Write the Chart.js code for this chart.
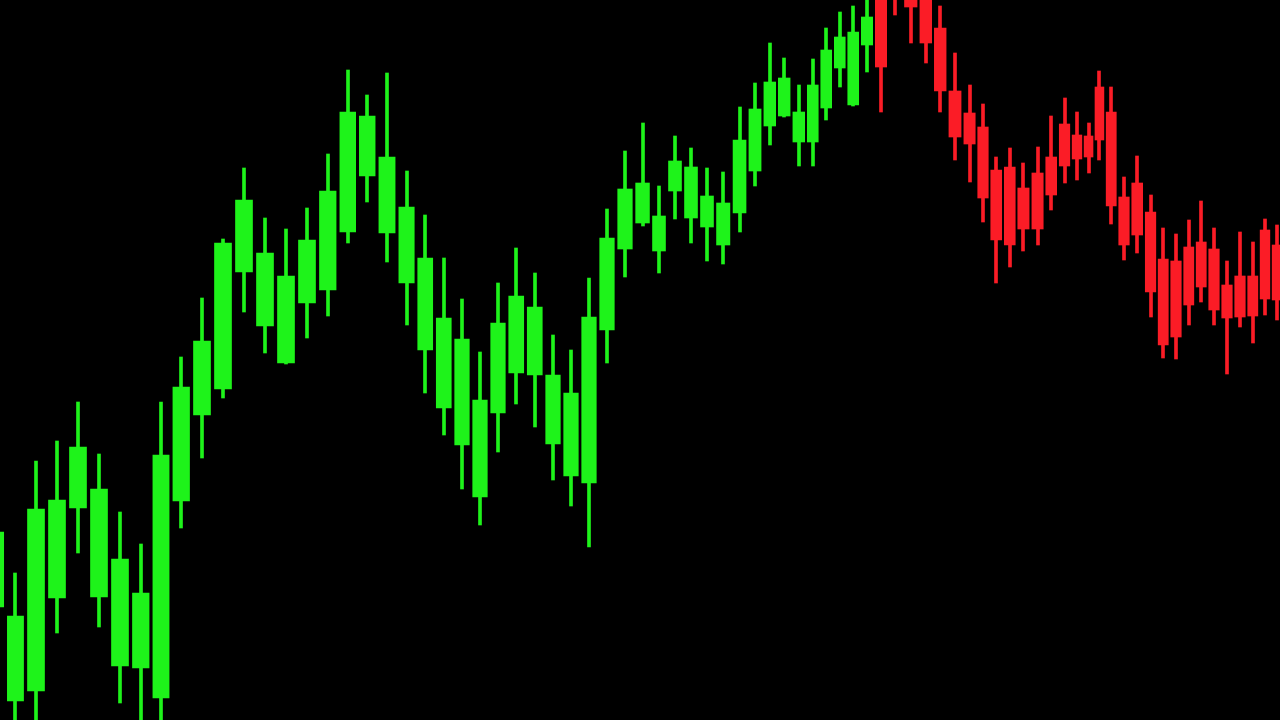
<!DOCTYPE html>
<html>
<head>
<meta charset="utf-8">
<title>Candles</title>
<script src="https://cdn.jsdelivr.net/npm/chart.js@4.4.1/dist/chart.umd.min.js"></script>
<style>
  html, body { margin: 0; padding: 0; background: #000; overflow: hidden; }
  canvas { display: block; }
</style>
</head>
<body>
<canvas id="candles" width="1280" height="720"></canvas>
<script>
// candle times (irregular) and OHLC prices
var times = [-4, 15, 36, 57, 78, 99, 120, 141, 161, 181,
    202, 223, 244, 265, 286, 307, 328, 348, 367, 387,
    407, 425, 444, 462, 480, 498, 516, 535, 553, 571,
    589, 607, 625, 643, 659, 675, 691, 707, 723, 740,
    755, 770, 784, 799, 813, 826, 840, 853, 867, 881,
    895, 911, 926, 940, 955, 970, 983, 996, 1010, 1023,
    1038, 1051, 1065, 1077, 1089, 1099, 1111, 1124, 1137, 1151,
    1163, 1176, 1189, 1201, 1214, 1227, 1240, 1253, 1265, 1277];

var open = [113, 19, 29, 122, 212, 123, 54, 52, 22, 219,
    305, 331, 448, 394, 357, 417, 430, 488, 544, 487,
    437, 370, 312, 275, 223, 307, 347, 345, 276, 244,
    237, 390, 471, 497, 469, 529, 502, 493, 475, 507,
    549, 594, 604, 578, 578, 612, 652, 615, 675, 725,
    760, 740, 730, 692, 629, 607, 593, 550, 553, 532,
    547, 563, 596, 585, 584, 633, 608, 523, 537, 508,
    461, 459, 473, 478, 471, 435, 444, 444, 490, 475];

var high = [202, 147, 259, 279, 318, 266, 208, 176, 318, 363,
    422, 481, 552, 502, 491, 512, 566, 650, 625, 647,
    549, 505, 462, 421, 368, 437, 472, 447, 385, 370,
    442, 511, 569, 597, 534, 584, 572, 552, 548, 613,
    637, 677, 662, 635, 661, 692, 708, 714, 730, 740,
    770, 750, 740, 714, 667, 635, 616, 563, 572, 557,
    573, 604, 622, 608, 597, 649, 633, 543, 564, 525,
    492, 486, 500, 519, 492, 459, 488, 478, 501, 495];

var low = [80, -20, -20, 87, 167, 93, 17, -20, -20, 192,
    262, 322, 408, 367, 356, 382, 404, 477, 518, 458,
    395, 327, 285, 231, 195, 268, 316, 293, 240, 214,
    173, 357, 443, 494, 447, 501, 477, 459, 456, 488,
    534, 575, 603, 554, 554, 600, 633, 614, 648, 608,
    705, 677, 657, 608, 560, 538, 498, 437, 453, 469,
    475, 510, 537, 540, 547, 560, 496, 460, 467, 403,
    362, 361, 395, 418, 395, 346, 393, 377, 405, 400];

var close = [188, 104, 211, 220, 273, 231, 161, 127, 265, 333,
    379, 477, 520, 467, 444, 480, 529, 608, 604, 563,
    513, 462, 402, 381, 320, 397, 424, 413, 345, 327,
    403, 482, 531, 537, 504, 559, 553, 524, 517, 580,
    611, 638, 642, 608, 635, 670, 683, 688, 703, 653,
    725, 713, 677, 629, 583, 576, 522, 480, 475, 491,
    491, 525, 554, 561, 563, 580, 514, 475, 485, 428,
    375, 383, 415, 433, 410, 402, 403, 404, 421, 420];

var upColor = '#1ef31a';
var downColor = '#fb1c26';

function candleColor(ctx) {
    var i = ctx.dataIndex;
    return close[i] >= open[i] ? upColor : downColor;
}

var bodies = times.map(function (t, i) { return { x: t, y: [open[i], close[i]] }; });
var wicks = times.map(function (t, i) { return { x: t, y: [low[i], high[i]] }; });

var ctx = document.getElementById('candles').getContext('2d');

var chart = new Chart(ctx, {
    type: 'bar',
    data: {
        datasets: [{
            label: 'body',
            data: bodies,
            backgroundColor: candleColor,
            borderWidth: 0,
            barThickness: 'flex',
            categoryPercentage: 0.9,
            barPercentage: 0.9
        }, {
            label: 'wick',
            data: wicks,
            backgroundColor: candleColor,
            borderWidth: 0,
            grouped: false,
            barThickness: 3
        }]
    },
    options: {
        responsive: false,
        animation: false,
        layout: { padding: 0 },
        plugins: {
            legend: { display: false },
            tooltip: { enabled: false }
        },
        scales: {
            x: { type: 'linear', min: 0, max: 1280, offset: false, stacked: true, display: false },
            y: { type: 'linear', min: 0, max: 720, stacked: false, display: false }
        }
    }
});
</script>
</body>
</html>
